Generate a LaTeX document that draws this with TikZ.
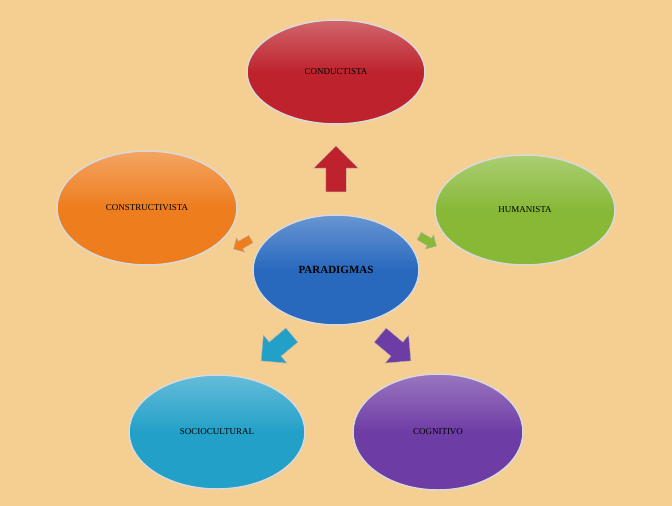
\documentclass[tikz,border=0pt]{standalone}
\usepackage{fontspec}
\setmainfont{Liberation Serif}
\usetikzlibrary{shapes.geometric,shapes.arrows}
\begin{document}
\begin{tikzpicture}[x=1pt,y=-1pt,
  ell/.style={ellipse,draw=white!85!black,line width=1.5pt,inner sep=0pt,font=\fontsize{9}{10}\selectfont},
  barrow/.style={single arrow,minimum height=#1,inner xsep=0pt,draw=white!70!black,line width=0.4pt,font=\fontsize{1}{1}\selectfont}]
\fill[fill={rgb,255:red,245;green,207;blue,145}] (0,0) rectangle (672,506);
\useasboundingbox (0,0) rectangle (672,506);
\definecolor{cred}{RGB}{190,35,45}
\definecolor{cgreen}{RGB}{135,185,55}
\definecolor{corange}{RGB}{238,125,30}
\definecolor{cblue}{RGB}{40,105,190}
\definecolor{ccyan}{RGB}{35,160,200}
\definecolor{cpurple}{RGB}{110,60,165}
\node[ell,minimum width=178,minimum height=104,top color=cred!70!white,bottom color=cred,middle color=cred] (c) at (336,72) {CONDUCTISTA};
\node[ell,minimum width=180,minimum height=110,top color=cgreen!70!white,bottom color=cgreen,middle color=cgreen] (h) at (525,210) {HUMANISTA};
\node[ell,minimum width=180,minimum height=114,top color=corange!70!white,bottom color=corange,middle color=corange] (k) at (147,208) {CONSTRUCTIVISTA};
\node[ell,minimum width=166,minimum height=110,top color=cblue!70!white,bottom color=cblue,middle color=cblue,font=\bfseries\fontsize{11}{12}\selectfont] (p) at (336,270) {PARADIGMAS};
\node[ell,minimum width=176,minimum height=114,top color=ccyan!70!white,bottom color=ccyan,middle color=ccyan] (s) at (217,432) {SOCIOCULTURAL};
\node[ell,minimum width=170,minimum height=116,top color=cpurple!70!white,bottom color=cpurple,middle color=cpurple] (g) at (438,432) {COGNITIVO};
\node[barrow=46pt,fill=cred,rotate=90,inner ysep=10pt,single arrow head extend=12pt] (a1) at (336,174) {};
\node[barrow=20pt,fill=cgreen,inner ysep=4pt,single arrow head extend=4pt,rotate=-30] (a2) at (426,240) {};
\node[barrow=20pt,fill=corange,inner ysep=4pt,single arrow head extend=4pt,rotate=210] (a3) at (244,243) {};
\node[barrow=40pt,fill=ccyan,inner ysep=9pt,single arrow head extend=9pt,rotate=-140] (a4) at (280,345) {};
\node[barrow=40pt,fill=cpurple,inner ysep=9pt,single arrow head extend=9pt,rotate=-40] (a5) at (392,345) {};
\end{tikzpicture}
\end{document}
